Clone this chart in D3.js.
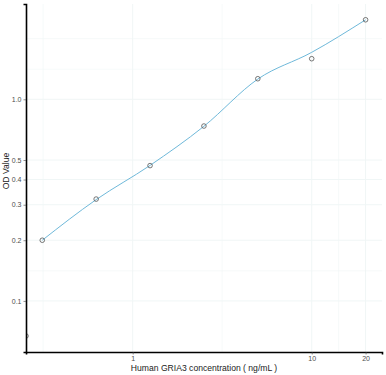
<!DOCTYPE html>
<html>
<head>
<meta charset="utf-8">
<script src="https://cdn.jsdelivr.net/npm/d3@7"></script>
<style>
  body { margin: 0; background: #fff; }
  text { font-family: "Liberation Sans", Arial, sans-serif; }
</style>
</head>
<body>
<div id="chart"></div>
<script>
// standard points (concentration ng/mL, OD)
var conc = [0, 0.3125, 0.625, 1.25, 2.5, 5, 10, 20];
var od = [0.067, 0.2, 0.32, 0.469, 0.737, 1.265, 1.59, 2.48];

// fitted curve
var fitConc = [0.3125, 0.625, 1.25, 2.5, 5, 10, 20];
var fitOd = [0.2, 0.318, 0.47, 0.735, 1.26, 1.71, 2.48];

var xTicks = [1, 10, 20];
var yTicks = [0.1, 0.2, 0.3, 0.4, 0.5, 1.0];
var xMinor = [0.316, 3.16, 14.14];
var yMinor = [0.141, 1.41, 2];

var width = 386,
    height = 375,
    margin = {top: 4, right: 4, bottom: 23, left: 26};

var x = d3.scaleLog()
    .domain([0.2535, 24.7])
    .range([margin.left, width - margin.right]);

var y = d3.scaleLog()
    .domain([0.0558, 2.97])
    .range([height - margin.bottom, margin.top]);

var svg = d3.select('#chart')
    .append('svg')
    .attr('width', width)
    .attr('height', height);

svg.append('clipPath')
    .attr('id', 'panel')
    .append('rect')
    .attr('x', margin.left)
    .attr('y', margin.top)
    .attr('width', width - margin.left - margin.right)
    .attr('height', height - margin.top - margin.bottom);

var grid = svg.append('g');

grid.selectAll('.vx')
    .data(xTicks.concat(xMinor))
    .enter().append('line')
    .attr('x1', function(d){ return x(d); })
    .attr('x2', function(d){ return x(d); })
    .attr('y1', margin.top)
    .attr('y2', height - margin.bottom)
    .attr('stroke', '#f0f6f6')
    .attr('stroke-width', function(d){ return xTicks.indexOf(d) >= 0 ? 1 : 0.6; });

grid.selectAll('.hy')
    .data(yTicks.concat(yMinor))
    .enter().append('line')
    .attr('y1', function(d){ return y(d); })
    .attr('y2', function(d){ return y(d); })
    .attr('x1', margin.left)
    .attr('x2', width - margin.right)
    .attr('stroke', '#f0f6f6')
    .attr('stroke-width', function(d){ return yTicks.indexOf(d) >= 0 ? 1 : 0.6; });

// curve
var fit = fitConc.map(function(c, i){ return [c, fitOd[i]]; });
var line = d3.line()
    .x(function(d){ return x(d[0]); })
    .y(function(d){ return y(d[1]); })
    .curve(d3.curveMonotoneX);

svg.append('path')
    .datum(fit)
    .attr('d', line)
    .attr('fill', 'none')
    .attr('stroke', '#6fb9da')
    .attr('stroke-width', 1);

// points (zero concentration sits on the panel edge)
svg.append('g')
    .attr('clip-path', 'url(#panel)')
    .selectAll('circle')
    .data(conc)
    .enter().append('circle')
    .attr('cx', function(d){ return d > 0 ? x(d) : x.range()[0]; })
    .attr('cy', function(d, i){ return y(od[i]); })
    .attr('r', 2.3)
    .attr('fill', 'none')
    .attr('stroke', '#555')
    .attr('stroke-width', 0.8);

// axes
var xAxis = svg.append('g')
    .attr('transform', 'translate(0,' + (height - margin.bottom) + ')')
    .call(d3.axisBottom(x).tickValues(xTicks).tickFormat(d3.format('d')).tickSize(2.5).tickPadding(2));

var yAxis = svg.append('g')
    .attr('transform', 'translate(' + margin.left + ',0)')
    .call(d3.axisLeft(y).tickValues(yTicks).tickFormat(d3.format('.1f')).tickSize(2.5).tickPadding(2));

[xAxis, yAxis].forEach(function(a){
    a.select('.domain').attr('stroke', '#000').attr('stroke-width', 1.6);
    a.selectAll('.tick line').attr('stroke', '#444').attr('stroke-width', 0.6);
    a.selectAll('.tick text').attr('fill', '#4d4d4d').style('font-size', '7px');
});

svg.append('text')
    .attr('x', (margin.left + width - margin.right) / 2)
    .attr('y', 371)
    .attr('text-anchor', 'middle')
    .style('font-size', '8.6px')
    .attr('fill', '#222')
    .text('Human GRIA3 concentration ( ng/mL )');

svg.append('text')
    .attr('transform', 'translate(9,171) rotate(-90)')
    .attr('text-anchor', 'middle')
    .style('font-size', '8.6px')
    .attr('fill', '#222')
    .text('OD Value');
</script>
</body>
</html>
